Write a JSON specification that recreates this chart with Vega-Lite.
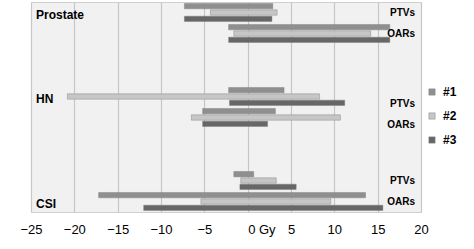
{
  "$schema": "https://vega.github.io/schema/vega-lite/v6.json",
  "width": 390,
  "height": 210,
  "padding": {"left": 19, "top": 2, "right": 5, "bottom": 5},
  "background": "white",
  "config": {
    "view": {"fill": "#f1f1f1", "stroke": "#cfcfcf"},
    "font": "Liberation Sans"
  },
  "datasets": {
    "bars": [
      {"cat": "Prostate PTVs", "series": "#1", "lo": -7.3, "hi": 2.9},
      {"cat": "Prostate PTVs", "series": "#2", "lo": -4.3, "hi": 3.4},
      {"cat": "Prostate PTVs", "series": "#3", "lo": -7.3, "hi": 2.8},
      {"cat": "Prostate OARs", "series": "#1", "lo": -2.2, "hi": 16.4},
      {"cat": "Prostate OARs", "series": "#2", "lo": -1.6, "hi": 14.2},
      {"cat": "Prostate OARs", "series": "#3", "lo": -2.2, "hi": 16.4},
      {"cat": "HN PTVs", "series": "#1", "lo": -2.2, "hi": 4.2},
      {"cat": "HN PTVs", "series": "#2", "lo": -20.8, "hi": 8.3},
      {"cat": "HN PTVs", "series": "#3", "lo": -2.1, "hi": 11.2},
      {"cat": "HN OARs", "series": "#1", "lo": -5.2, "hi": 3.2},
      {"cat": "HN OARs", "series": "#2", "lo": -6.5, "hi": 10.7},
      {"cat": "HN OARs", "series": "#3", "lo": -5.2, "hi": 2.3},
      {"cat": "CSI PTVs", "series": "#1", "lo": -1.6, "hi": 0.7},
      {"cat": "CSI PTVs", "series": "#2", "lo": -0.8, "hi": 3.3},
      {"cat": "CSI PTVs", "series": "#3", "lo": -0.9, "hi": 5.6},
      {"cat": "CSI OARs", "series": "#1", "lo": -17.2, "hi": 13.6},
      {"cat": "CSI OARs", "series": "#2", "lo": -5.4, "hi": 9.6},
      {"cat": "CSI OARs", "series": "#3", "lo": -12.0, "hi": 15.6}
    ],
    "groups": [
      {"cat": "Prostate PTVs", "text": "Prostate"},
      {"cat": "HN PTVs", "text": "HN"},
      {"cat": "CSI OARs", "text": "CSI"}
    ],
    "subs": [
      {"cat": "Prostate PTVs", "group": "Prostate", "text": "PTVs"},
      {"cat": "Prostate OARs", "group": "Prostate", "text": "OARs"},
      {"cat": "HN PTVs", "group": "HN", "text": "PTVs"},
      {"cat": "HN OARs", "group": "HN", "text": "OARs"},
      {"cat": "CSI PTVs", "group": "CSI", "text": "PTVs"},
      {"cat": "CSI OARs", "group": "CSI", "text": "OARs"}
    ]
  },
  "encoding": {
    "y": {
      "field": "cat",
      "type": "nominal",
      "scale": {
        "domain": ["Prostate PTVs", "Prostate OARs", "gap1", "gap2", "HN PTVs", "HN OARs", "gap3", "gap4", "CSI PTVs", "CSI OARs"],
        "paddingInner": 0.14,
        "paddingOuter": 0.07
      },
      "axis": null
    }
  },
  "layer": [
    {
      "data": {"name": "bars"},
      "mark": {"type": "bar", "stroke": "#7a7a7a", "strokeWidth": 0.4},
      "encoding": {
        "x": {
          "field": "lo",
          "type": "quantitative",
          "scale": {"domain": [-25, 20], "nice": false, "zero": false},
          "axis": {
            "title": null,
            "values": [-25, -20, -15, -10, -5, 0, 5, 10, 15, 20],
            "labelExpr": "datum.value == 0 ? '0 Gy' : datum.label",
            "labelAlign": {"condition": {"test": "datum.value == 0", "value": "left"}, "value": "center"},
            "labelFont": "Liberation Sans",
            "labelFontSize": 13,
            "labelColor": "#000000",
            "labelPadding": 11,
            "ticks": false,
            "domain": false,
            "grid": true,
            "gridColor": "#c6c6c6",
            "gridWidth": 1.2
          }
        },
        "x2": {"field": "hi"},
        "yOffset": {
          "field": "series",
          "type": "nominal",
          "scale": {"domain": ["#1", "#2", "#3"], "paddingInner": 0.15, "paddingOuter": 0}
        },
        "color": {
          "field": "series",
          "type": "nominal",
          "scale": {"domain": ["#1", "#2", "#3"], "range": ["#8f8f8f", "#c6c6c6", "#676767"]},
          "legend": {
            "title": null,
            "orient": "none",
            "legendX": 395,
            "legendY": 84,
            "symbolType": "square",
            "symbolSize": 40,
            "symbolStrokeColor": "#888888",
            "symbolStrokeWidth": 0.5,
            "labelFont": "Liberation Sans",
            "labelFontWeight": "bold",
            "labelFontSize": 12,
            "labelColor": "#000000",
            "rowPadding": 12,
            "labelOffset": 5
          }
        }
      }
    },
    {
      "data": {"name": "groups"},
      "mark": {"type": "text", "align": "left", "dx": 5, "dy": 2, "fontWeight": "bold", "fontSize": 12, "font": "Liberation Sans", "color": "#000000"},
      "encoding": {
        "x": {"datum": -25, "type": "quantitative"},
        "text": {"field": "text"}
      }
    },
    {
      "data": {"name": "subs"},
      "transform": [{"filter": "datum.group != 'HN'"}],
      "mark": {"type": "text", "align": "right", "dx": -6, "dy": 0, "fontWeight": "bold", "fontSize": 10, "font": "Liberation Sans", "color": "#000000"},
      "encoding": {
        "x": {"datum": 20, "type": "quantitative"},
        "text": {"field": "text"}
      }
    },
    {
      "data": {"name": "subs"},
      "transform": [{"filter": "datum.group == 'HN'"}],
      "mark": {"type": "text", "align": "right", "dx": -6, "dy": 7, "fontWeight": "bold", "fontSize": 10, "font": "Liberation Sans", "color": "#000000"},
      "encoding": {
        "x": {"datum": 20, "type": "quantitative"},
        "text": {"field": "text"}
      }
    }
  ]
}
